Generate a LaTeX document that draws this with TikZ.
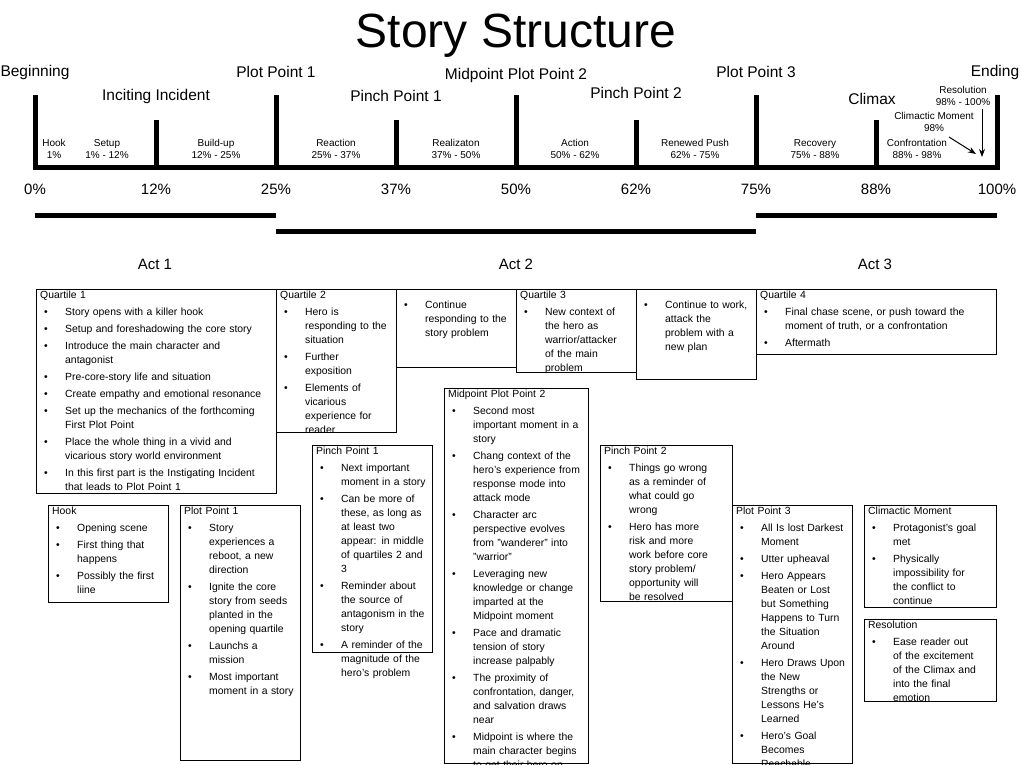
\documentclass[tikz,border=0pt]{standalone}
\usepackage{fontspec}
\setmainfont{Liberation Sans}
\usetikzlibrary{arrows.meta}
\makeatletter
\newcommand\bi[1]{\par\vspace{3pt}\noindent\hangindent=25pt\hangafter=1\hspace*{4pt}\makebox[21pt][l]{\textbullet}{\let\\\@normalcr #1}\par}
\makeatother
\tikzset{
  tl/.style={line width=5pt},
  big/.style={font=\fontsize{15.5}{18}\selectfont},
  sm/.style={font=\fontsize{10}{12.5}\selectfont, align=center},
  pct/.style={font=\fontsize{15}{18}\selectfont},
  bx/.style={draw, line width=1pt},
  bt/.style={anchor=north west, inner sep=0pt, font=\fontsize{10.4}{14}\selectfont},
  arr/.style={-{Stealth[length=8pt,width=6pt]}, line width=1pt}
}
\begin{document}
\begin{tikzpicture}[x=1pt,y=-1pt]
\useasboundingbox (0,0) rectangle (1021,764);
\fill[white] (0,0) rectangle (1021,764);
\node[font=\fontsize{48}{54}\selectfont] (title) at (516,36) {Story Structure};
% timeline
\coordinate (l0) at (35,167); \coordinate (l1) at (997,167);
\draw[tl] (l0) -- (l1);
\foreach \x/\t in {35/95,156/120,276/95,396/120,516/95,636/120,756/95,876/120,997/95}{
  \draw[tl] (\x,\t) -- (\x,169.5);}
\node[big] (beg) at (35,72) {Beginning};
\node[big] (inc) at (156,96) {Inciting Incident};
\node[big] (pp1) at (276,72) {Plot Point 1};
\node[big] (pi1) at (396,96) {Pinch Point 1};
\node[big] (mid) at (516,75) {Midpoint Plot Point 2};
\node[big] (pi2) at (636,93) {Pinch Point 2};
\node[big] (pp3) at (756,72) {Plot Point 3};
\node[big] (clx) at (872,99) {Climax};
\node[big] (end) at (995,72) {Ending};
\node[sm] (s1) at (54,149) {Hook\\1\%};
\node[sm] (s2) at (107,149) {Setup\\1\% - 12\%};
\node[sm] (s3) at (216,149) {Build-up\\12\% - 25\%};
\node[sm] (s4) at (336,149) {Reaction\\25\% - 37\%};
\node[sm] (s5) at (456,149) {Realizaton\\37\% - 50\%};
\node[sm] (s6) at (575,149) {Action\\50\% - 62\%};
\node[sm] (s7) at (695,149) {Renewed Push\\62\% - 75\%};
\node[sm] (s8) at (815,149) {Recovery\\75\% - 88\%};
\node[sm] (s9) at (917,149) {Confrontation\\88\% - 98\%};
\node[sm] (s10) at (934,122) {Climactic Moment\\98\%};
\node[sm] (s11) at (963,96) {Resolution\\98\% - 100\%};
\coordinate (a1) at (982,157); \coordinate (a2) at (976,154);
\draw[arr] (982,109) -- (a1);
\draw[arr] (949,137) -- (a2);
\foreach \x/\p [count=\i] in {35/0,156/12,276/25,396/37,516/50,636/62,756/75,876/88,997/100}{
  \node[pct] (p\i) at (\x,189) {\p\%};}
\draw[tl] (35,215) -- (276,215);
\draw[tl] (276,231) -- (756,231);
\draw[tl] (756,215) -- (997,215);
\node[pct] (act1) at (155,264) {Act 1};
\node[pct] (act2) at (516,264) {Act 2};
\node[pct] (act3) at (875,264) {Act 3};
% boxes
\newcommand\mybox[6]{\draw[bx] (#2,#3) rectangle (#4,#5);
  \node[bt, text width={(#4-#2-6)*1pt}] (#1) at (#2+4,#3+2) {\raggedright #6};}
\mybox{q1}{36}{289}{276}{493}{Quartile 1
 \bi{Story opens with a killer hook}
 \bi{Setup and foreshadowing the core story}
 \bi{Introduce the main character and\\antagonist}
 \bi{Pre-core-story life and situation}
 \bi{Create empathy and emotional resonance}
 \bi{Set up the mechanics of the forthcoming\\First Plot Point}
 \bi{Place the whole thing in a vivid and\\vicarious story world environment}
 \bi{In this first part is the Instigating Incident\\that leads to Plot Point 1}}
\mybox{q2}{276}{289}{396}{432}{Quartile 2
 \bi{Hero is\\responding to the\\situation}
 \bi{Further\\exposition}
 \bi{Elements of\\vicarious\\experience for\\reader}}
\mybox{c2}{396}{289}{516}{367}{\mbox{}
 \bi{Continue\\responding to the\\story problem}}
\mybox{q3}{516}{289}{636}{372}{Quartile 3
 \bi{New context of\\the hero as\\warrior/attacker\\of the main\\problem}}
\mybox{c3}{636}{289}{756}{379}{\mbox{}
 \bi{Continue to work,\\attack the\\problem with a\\new plan}}
\mybox{q4}{756}{289}{996}{354}{Quartile 4
 \bi{Final chase scene, or push toward the\\moment of truth, or a confrontation}
 \bi{Aftermath}}
\mybox{hk}{48}{505}{168}{602}{Hook
 \bi{Opening scene}
 \bi{First thing that\\happens}
 \bi{Possibly the first\\liine}}
\mybox{bp1}{180}{505}{300}{760}{Plot Point 1
 \bi{Story\\experiences a\\reboot, a new\\direction}
 \bi{Ignite the core\\story from seeds\\planted in the\\opening quartile}
 \bi{Launchs a\\mission}
 \bi{Most important\\moment in a story}}
\mybox{bpi1}{312}{445}{432}{652}{Pinch Point 1
 \bi{Next important\\moment in a story}
 \bi{Can be more of\\these, as long as\\at least two\\appear: in middle\\of quartiles 2 and\\3}
 \bi{Reminder about\\the source of\\antagonism in the\\story}
 \bi{A reminder of the\\magnitude of the\\hero's problem}}
\mybox{bmid}{444}{388}{588}{763}{Midpoint Plot Point 2
 \bi{Second most\\important moment in a\\story}
 \bi{Chang context of the\\hero's experience from\\response mode into\\attack mode}
 \bi{Character arc\\perspective evolves\\from "wanderer" into\\"warrior"}
 \bi{Leveraging new\\knowledge or change\\imparted at the\\Midpoint moment}
 \bi{Pace and dramatic\\tension of story\\increase palpably}
 \bi{The proximity of\\confrontation, danger,\\and salvation draws\\near}
 \bi{Midpoint is where the\\main character begins\\to get their hero on}}
\mybox{bpi2}{600}{445}{732}{601}{Pinch Point 2
 \bi{Things go wrong\\as a reminder of\\what could go\\wrong}
 \bi{Hero has more\\risk and more\\work before core\\story problem/\\opportunity will\\be resolved}}
\mybox{bpp3}{732}{505}{852}{763}{Plot Point 3
 \bi{All Is lost Darkest\\Moment}
 \bi{Utter upheaval}
 \bi{Hero Appears\\Beaten or Lost\\but Something\\Happens to Turn\\the Situation\\Around}
 \bi{Hero Draws Upon\\the New\\Strengths or\\Lessons He's\\Learned}
 \bi{Hero's Goal\\Becomes\\Reachable}}
\mybox{bcm}{864}{505}{996}{607}{Climactic Moment
 \bi{Protagonist's goal\\met}
 \bi{Physically\\impossibility for\\the conflict to\\continue}}
\mybox{bres}{864}{619}{996}{701}{Resolution
 \bi{Ease reader out\\of the excitement\\of the Climax and\\into the final\\emotion}}
\end{tikzpicture}
\end{document}
